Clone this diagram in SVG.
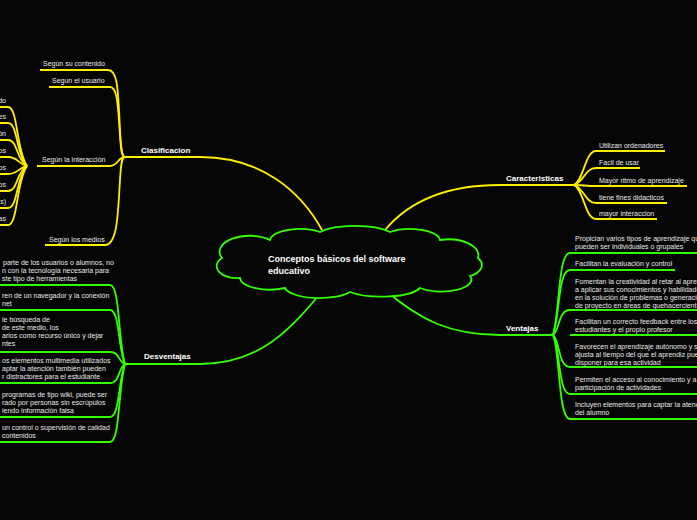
<svg xmlns="http://www.w3.org/2000/svg" width="697" height="520" viewBox="0 0 697 520">
<style>
.y{fill:none;stroke:#ffee00;stroke-width:1.8}
.g{fill:none;stroke:#33ff00;stroke-width:1.8}
text{font-family:"Liberation Sans",Arial,sans-serif;font-size:7px;fill:#e8e8e8}
.b{font-weight:bold;font-size:8px;fill:#fff}
.c{font-weight:bold;font-size:9px;fill:#fff}
.e{text-anchor:end}
</style>
<rect width="697" height="520" fill="#060606"/>
<g id="connectors">
<path class="y" d="M322,230 C300,190 260,157 200,157 L125,157"/>
<path class="y" d="M40,70 L108,70 C118,70 118,90 120,130 C121,150 122,157 125,157"/>
<path class="y" d="M49,87 L110,87 C118,87 118,110 120,135 C121,152 122,157 125,157"/>
<path class="y" d="M37,166 L110,166 C118,166 118,157 125,157"/>
<path class="y" d="M45,245 L105,245 C118,245 118,210 120,180 C121,162 122,157 125,157"/>
<g>
<path class="y" d="M0,107 L8,107 C18,107 16,150 27,166"/>
<path class="y" d="M0,123 L8,123 C18,123 16,155 27,166"/>
<path class="y" d="M0,140 L8,140 C18,140 16,160 27,166"/>
<path class="y" d="M0,157 L8,157 C18,157 18,164 27,166"/>
<path class="y" d="M0,174 L8,174 C18,174 18,168 27,166"/>
<path class="y" d="M0,191 L8,191 C18,191 16,172 27,166"/>
<path class="y" d="M0,208 L8,208 C18,208 16,177 27,166"/>
<path class="y" d="M0,225 L8,225 C18,225 16,182 27,166"/>
</g>
<path class="y" d="M385,230 C410,200 450,185 500,185 L574,185"/>
<path class="y" d="M596,151 L665,151 M596,151 C585,151 584,180 574,185"/>
<path class="y" d="M596,168 L640,168 M596,168 C585,168 584,182 574,185"/>
<path class="y" d="M596,186 L687,186 M596,186 C585,186 584,185 574,185"/>
<path class="y" d="M596,203 L667,203 M596,203 C585,203 584,188 574,185"/>
<path class="y" d="M596,219 L657,219 M596,219 C585,219 584,190 574,185"/>
<path class="g" d="M325,288 C290,330 260,364 200,364 L125,364"/>
<path class="g" d="M0,285 L110,285 C120,285 118,340 125,364"/>
<path class="g" d="M0,310 L110,310 C120,310 118,350 125,364"/>
<path class="g" d="M0,352 L110,352 C120,352 118,362 125,364"/>
<path class="g" d="M0,383 L110,383 C120,383 118,368 125,364"/>
<path class="g" d="M0,417 L110,417 C120,417 118,380 125,364"/>
<path class="g" d="M0,442 L110,442 C120,442 118,390 125,364"/>
<path class="g" d="M385,290 C420,320 450,335 500,335 L553,335"/>
<path class="g" d="M570,253 L697,253 M570,253 C558,253 560,310 553,335"/>
<path class="g" d="M570,270 L675,270 M570,270 C558,270 560,315 553,335"/>
<path class="g" d="M570,310 L697,310 M570,310 C558,310 560,330 553,335"/>
<path class="g" d="M570,335 L697,335"/>
<path class="g" d="M570,367 L697,367 M570,367 C558,367 560,340 553,335"/>
<path class="g" d="M570,394 L697,394 M570,394 C558,394 560,345 553,335"/>
<path class="g" d="M570,419 L697,419 M570,419 C558,419 560,350 553,335"/>
</g>
<g id="center">
<path d="M222,258 A30,16 0 0 1 270,240 A30,12 0 0 1 320,232 A40,12 0 0 1 390,232 A30,12 0 0 1 440,240 A30,16 0 0 1 478,258 A20,12 0 0 1 470,276 A30,12 0 0 1 420,288 A40,12 0 0 1 350,292 A35,12 0 0 1 285,288 A30,12 0 0 1 240,278 A20,12 0 0 1 222,258 Z" fill="#060606" stroke="#33ff00" stroke-width="1.8"/>
<text class="c" x="268" y="262">Conceptos básicos del software</text>
<text class="c" x="268" y="274">educativo</text>
</g>
<g id="clasificacion">
<text class="b" x="141" y="153">Clasificacion</text>
<text x="43" y="66">Según su contenido</text>
<text x="52" y="83">Segun el usuario</text>
<text x="42" y="162">Según la interacción</text>
<text x="49" y="242">Según los medios</text>
<text class="e" x="6" y="103">do</text>
<text class="e" x="6" y="119">es</text>
<text class="e" x="6" y="136">ón</text>
<text class="e" x="6" y="153">os</text>
<text class="e" x="6" y="170">os</text>
<text class="e" x="6" y="187">os</text>
<text class="e" x="6" y="204">s)</text>
<text class="e" x="6" y="221">as</text>
</g>
<g id="desventajas">
<text class="b" x="144" y="359">Desventajas</text>
<text x="3" y="265">parte de los usuarios o alumnos, no</text>
<text x="2" y="273">n con la tecnología necesaria para</text>
<text x="2" y="281">ste tipo de herramientas</text>
<text x="2" y="298">ren de un navegador y la conexión</text>
<text x="2" y="306">net</text>
<text x="2" y="322">le búsqueda de</text>
<text x="2" y="330">de este medio, los</text>
<text x="2" y="338">arios como recurso único y dejar</text>
<text x="2" y="346">ntes</text>
<text x="2" y="363">os elementos multimedia utilizados</text>
<text x="2" y="371">aptar la atención también pueden</text>
<text x="2" y="379">r distractores para el estudiante</text>
<text x="2" y="397">programas de tipo wiki, puede ser</text>
<text x="2" y="405">rado por personas sin escrúpulos</text>
<text x="2" y="413">iendo información falsa</text>
<text x="2" y="430">un control o supervisión de calidad</text>
<text x="2" y="438">contenidos</text>
</g>
<g id="caracteristicas">
<text class="b" x="506" y="181">Caracteristicas</text>
<text x="599" y="148">Utilizan ordenadores</text>
<text x="599" y="165">Facil de usar</text>
<text x="599" y="183">Mayor ritmo de aprendizaje</text>
<text x="599" y="200">tiene fines didacticos</text>
<text x="599" y="216">mayor interaccion</text>
</g>
<g id="ventajas">
<text class="b" x="506" y="331">Ventajas</text>
<text x="575" y="241">Propician varios tipos de aprendizaje que</text>
<text x="575" y="249">pueden ser individuales o grupales</text>
<text x="575" y="266">Facilitan la evaluación y control</text>
<text x="575" y="284">Fomentan la creatividad al retar al aprendiz</text>
<text x="575" y="292">a aplicar sus conocimientos y habilidades</text>
<text x="575" y="300">en la solución de problemas o generación</text>
<text x="575" y="308">de proyecto en áreas de quehacercientífico</text>
<text x="575" y="324">Facilitan un correcto feedback entre los</text>
<text x="575" y="332">estudiantes y el propio profesor</text>
<text x="575" y="349">Favorecen el aprendizaje autónomo y se</text>
<text x="575" y="357">ajusta al tiempo del que el aprendiz puede</text>
<text x="575" y="365">disponer para esa actividad</text>
<text x="575" y="382">Permiten el acceso al conocimiento y a la</text>
<text x="575" y="390">participación de actividades</text>
<text x="575" y="407">Incluyen elementos para captar la atención</text>
<text x="575" y="415">del alumno</text>
</g>
</svg>
